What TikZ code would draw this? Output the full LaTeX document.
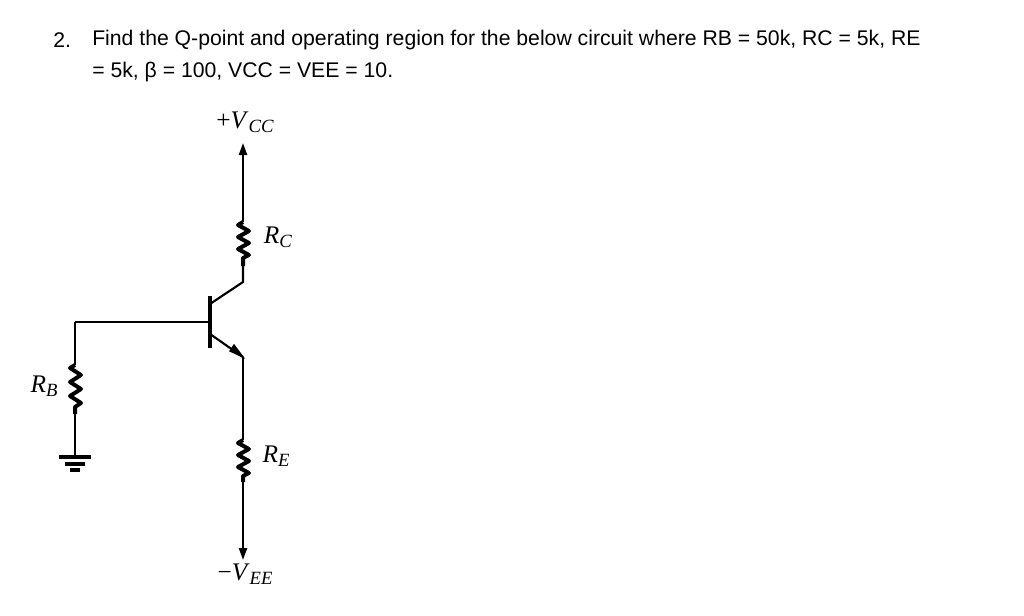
\documentclass[tikz,border=0pt]{standalone}
\usepackage{fontspec}
\setmainfont{Liberation Serif}
\newfontfamily\hsans{Liberation Sans}
\usetikzlibrary{arrows.meta}
\begin{document}
\begin{tikzpicture}[x=0.75pt,y=-0.75pt,
  wire/.style={line width=1.6pt},
  res/.style={line width=3pt,line join=round},
  txt/.style={font=\hsans\fontsize{15.9}{18}\selectfont,anchor=west,inner sep=0},
  lab/.style={font=\fontsize{19}{22}\selectfont,inner sep=0}]
\useasboundingbox (0,0) rectangle (1024,615);
% text
\node[txt] (num) at (53,40) {2.};
\node[txt] (l1) at (92,40) {Find the Q-point and operating region for the below circuit where RB = 50k, RC = 5k, RE};
\node[txt] (l2) at (92,72) {= 5k, β = 100, VCC = VEE = 10.};
% coordinates
\coordinate (vcc) at (243,143);
\coordinate (rct) at (243,222);
\coordinate (rcb) at (243,266);
\coordinate (ck) at (243,282);
\coordinate (bc) at (210,304);
\coordinate (bt) at (210,296);
\coordinate (bb) at (210,348);
\coordinate (bm) at (210,322);
\coordinate (be) at (210,334);
\coordinate (ek) at (243,357);
\coordinate (ret) at (243,440);
\coordinate (reb) at (243,482);
\coordinate (vee) at (243,560);
\coordinate (bl) at (75,322);
\coordinate (rbt) at (75,365);
\coordinate (rbb) at (75,414);
\coordinate (gnd) at (75,457);
% wires
\draw[wire,-{Triangle[length=9pt,width=6pt]}] (rct) -- (vcc);
\draw[res] (rct) -- ++(-5,3) -- ++(11,6) -- ++(-11,6) -- ++(11,6) -- ++(-11,6) -- ++(11,6) -- ++(-6,3) -- (rcb);
\draw[wire] (rcb) -- (ck) -- (bc);
\draw[line width=3pt] (bt) -- (bb);
\draw[wire] (bl) -- (bm);
\draw[wire] (be) -- (ek);
\draw[line width=1pt,fill=black] (ek) -- ++(-9,-12) -- ++(-4,6) -- cycle;
\draw[wire] (ek) -- (ret);
\draw[res] (ret) -- ++(-5,3) -- ++(11,6) -- ++(-11,6) -- ++(11,6) -- ++(-11,6) -- ++(11,6) -- ++(-6,3) -- (reb);
\draw[wire,-{Triangle[length=9pt,width=6pt]}] (reb) -- (vee);
\draw[wire] (bl) -- (rbt);
\draw[res] (rbt) -- ++(-5,3) -- ++(11,7) -- ++(-11,7) -- ++(11,7) -- ++(-11,7) -- ++(11,7) -- ++(-6,4) -- (rbb);
\draw[wire] (rbb) -- (gnd);
\draw[line width=2.4pt] (59,457) -- (91,457);
\draw[line width=2.4pt] (65,464) -- (85,464);
\draw[line width=2.4pt] (70,470) -- (80,470);
% labels
\node[lab] (lvcc) at (245,122) {+\textit{V}\raisebox{-0.35ex}{\fontsize{14}{16}\selectfont\textit{CC}}};
\node[lab] (lrc) at (278,237) {\textit{R}\raisebox{-0.35ex}{\fontsize{14}{16}\selectfont\textit{C}}};
\node[lab] (lrb) at (44,386) {\textit{R}\raisebox{-0.35ex}{\fontsize{14}{16}\selectfont\textit{B}}};
\node[lab] (lre) at (276,456) {\textit{R}\raisebox{-0.35ex}{\fontsize{14}{16}\selectfont\textit{E}}};
\node[lab] (lvee) at (245,574) {\textminus\textit{V}\raisebox{-0.35ex}{\fontsize{14}{16}\selectfont\textit{EE}}};
\end{tikzpicture}
\end{document}
